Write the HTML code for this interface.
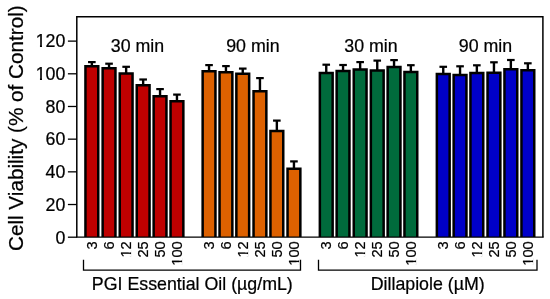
<!DOCTYPE html>
<html><head><meta charset="utf-8"><title>Cell Viability</title>
<style>
html,body{margin:0;padding:0;background:#fff;}
body{width:550px;height:299px;overflow:hidden;}
svg{display:block;}
text{font-family:"Liberation Sans",Arial,Helvetica,sans-serif;fill:#000;stroke:#000;stroke-width:0.22px;}
.xt{font-size:14.6px;stroke-width:0.2px;}
.yt{font-size:17.8px;}
.lab{font-size:17.8px;}
.ttl{font-size:20.7px;}
</style></head>
<body>
<svg width="550" height="299" viewBox="0 0 550 299">
<rect x="0" y="0" width="550" height="299" fill="#fff"/>
<line x1="91.85" y1="62.1" x2="91.85" y2="66" stroke="#000" stroke-width="2.4"/>
<line x1="88.05" y1="62.1" x2="95.65" y2="62.1" stroke="#000" stroke-width="2.2"/>
<rect x="85.45" y="66.25" width="12.8" height="170.75" fill="#BF0000"/>
<path d="M85.45 237V66.25H98.25V237" fill="none" stroke="#000" stroke-width="2.5" stroke-linejoin="miter"/>
<line x1="109.05" y1="63.7" x2="109.05" y2="68" stroke="#000" stroke-width="2.4"/>
<line x1="105.25" y1="63.7" x2="112.85" y2="63.7" stroke="#000" stroke-width="2.2"/>
<rect x="102.65" y="68.25" width="12.8" height="168.75" fill="#BF0000"/>
<path d="M102.65 237V68.25H115.45V237" fill="none" stroke="#000" stroke-width="2.5" stroke-linejoin="miter"/>
<line x1="126.15" y1="66.8" x2="126.15" y2="73.2" stroke="#000" stroke-width="2.4"/>
<line x1="122.35" y1="66.8" x2="129.95" y2="66.8" stroke="#000" stroke-width="2.2"/>
<rect x="119.75" y="73.45" width="12.8" height="163.55" fill="#BF0000"/>
<path d="M119.75 237V73.45H132.55V237" fill="none" stroke="#000" stroke-width="2.5" stroke-linejoin="miter"/>
<line x1="143.15" y1="79.5" x2="143.15" y2="85" stroke="#000" stroke-width="2.4"/>
<line x1="139.35" y1="79.5" x2="146.95" y2="79.5" stroke="#000" stroke-width="2.2"/>
<rect x="136.75" y="85.25" width="12.8" height="151.75" fill="#BF0000"/>
<path d="M136.75 237V85.25H149.55V237" fill="none" stroke="#000" stroke-width="2.5" stroke-linejoin="miter"/>
<line x1="160.05" y1="89.1" x2="160.05" y2="96.1" stroke="#000" stroke-width="2.4"/>
<line x1="156.25" y1="89.1" x2="163.85" y2="89.1" stroke="#000" stroke-width="2.2"/>
<rect x="153.65" y="96.35" width="12.8" height="140.65" fill="#BF0000"/>
<path d="M153.65 237V96.35H166.45V237" fill="none" stroke="#000" stroke-width="2.5" stroke-linejoin="miter"/>
<line x1="176.95" y1="94.6" x2="176.95" y2="100.9" stroke="#000" stroke-width="2.4"/>
<line x1="173.15" y1="94.6" x2="180.75" y2="94.6" stroke="#000" stroke-width="2.2"/>
<rect x="170.55" y="101.15" width="12.8" height="135.85" fill="#BF0000"/>
<path d="M170.55 237V101.15H183.35V237" fill="none" stroke="#000" stroke-width="2.5" stroke-linejoin="miter"/>
<line x1="209.05" y1="65.1" x2="209.05" y2="71" stroke="#000" stroke-width="2.4"/>
<line x1="205.25" y1="65.1" x2="212.85" y2="65.1" stroke="#000" stroke-width="2.2"/>
<rect x="202.65" y="71.25" width="12.8" height="165.75" fill="#DD6100"/>
<path d="M202.65 237V71.25H215.45V237" fill="none" stroke="#000" stroke-width="2.5" stroke-linejoin="miter"/>
<line x1="225.95" y1="66.1" x2="225.95" y2="72" stroke="#000" stroke-width="2.4"/>
<line x1="222.15" y1="66.1" x2="229.75" y2="66.1" stroke="#000" stroke-width="2.2"/>
<rect x="219.55" y="72.25" width="12.8" height="164.75" fill="#DD6100"/>
<path d="M219.55 237V72.25H232.35V237" fill="none" stroke="#000" stroke-width="2.5" stroke-linejoin="miter"/>
<line x1="242.75" y1="68.6" x2="242.75" y2="73.5" stroke="#000" stroke-width="2.4"/>
<line x1="238.95" y1="68.6" x2="246.55" y2="68.6" stroke="#000" stroke-width="2.2"/>
<rect x="236.35" y="73.75" width="12.8" height="163.25" fill="#DD6100"/>
<path d="M236.35 237V73.75H249.15V237" fill="none" stroke="#000" stroke-width="2.5" stroke-linejoin="miter"/>
<line x1="259.95" y1="78.1" x2="259.95" y2="91.1" stroke="#000" stroke-width="2.4"/>
<line x1="256.15" y1="78.1" x2="263.75" y2="78.1" stroke="#000" stroke-width="2.2"/>
<rect x="253.55" y="91.35" width="12.8" height="145.65" fill="#DD6100"/>
<path d="M253.55 237V91.35H266.35V237" fill="none" stroke="#000" stroke-width="2.5" stroke-linejoin="miter"/>
<line x1="276.85" y1="120.6" x2="276.85" y2="130.7" stroke="#000" stroke-width="2.4"/>
<line x1="273.05" y1="120.6" x2="280.65" y2="120.6" stroke="#000" stroke-width="2.2"/>
<rect x="270.45" y="130.95" width="12.8" height="106.05" fill="#DD6100"/>
<path d="M270.45 237V130.95H283.25V237" fill="none" stroke="#000" stroke-width="2.5" stroke-linejoin="miter"/>
<line x1="293.95" y1="161.4" x2="293.95" y2="168.4" stroke="#000" stroke-width="2.4"/>
<line x1="290.15" y1="161.4" x2="297.75" y2="161.4" stroke="#000" stroke-width="2.2"/>
<rect x="287.55" y="168.65" width="12.8" height="68.35" fill="#DD6100"/>
<path d="M287.55 237V168.65H300.35V237" fill="none" stroke="#000" stroke-width="2.5" stroke-linejoin="miter"/>
<line x1="326.25" y1="64.7" x2="326.25" y2="72.8" stroke="#000" stroke-width="2.4"/>
<line x1="322.45" y1="64.7" x2="330.05" y2="64.7" stroke="#000" stroke-width="2.2"/>
<rect x="319.85" y="73.05" width="12.8" height="163.95" fill="#006B3C"/>
<path d="M319.85 237V73.05H332.65V237" fill="none" stroke="#000" stroke-width="2.5" stroke-linejoin="miter"/>
<line x1="343.05" y1="65" x2="343.05" y2="70.8" stroke="#000" stroke-width="2.4"/>
<line x1="339.25" y1="65" x2="346.85" y2="65" stroke="#000" stroke-width="2.2"/>
<rect x="336.65" y="71.05" width="12.8" height="165.95" fill="#006B3C"/>
<path d="M336.65 237V71.05H349.45V237" fill="none" stroke="#000" stroke-width="2.5" stroke-linejoin="miter"/>
<line x1="360.15" y1="62.1" x2="360.15" y2="69.3" stroke="#000" stroke-width="2.4"/>
<line x1="356.35" y1="62.1" x2="363.95" y2="62.1" stroke="#000" stroke-width="2.2"/>
<rect x="353.75" y="69.55" width="12.8" height="167.45" fill="#006B3C"/>
<path d="M353.75 237V69.55H366.55V237" fill="none" stroke="#000" stroke-width="2.5" stroke-linejoin="miter"/>
<line x1="377.25" y1="60.6" x2="377.25" y2="70.3" stroke="#000" stroke-width="2.4"/>
<line x1="373.45" y1="60.6" x2="381.05" y2="60.6" stroke="#000" stroke-width="2.2"/>
<rect x="370.85" y="70.55" width="12.8" height="166.45" fill="#006B3C"/>
<path d="M370.85 237V70.55H383.65V237" fill="none" stroke="#000" stroke-width="2.5" stroke-linejoin="miter"/>
<line x1="394.05" y1="60.1" x2="394.05" y2="66.7" stroke="#000" stroke-width="2.4"/>
<line x1="390.25" y1="60.1" x2="397.85" y2="60.1" stroke="#000" stroke-width="2.2"/>
<rect x="387.65" y="66.95" width="12.8" height="170.05" fill="#006B3C"/>
<path d="M387.65 237V66.95H400.45V237" fill="none" stroke="#000" stroke-width="2.5" stroke-linejoin="miter"/>
<line x1="410.85" y1="65.2" x2="410.85" y2="71.8" stroke="#000" stroke-width="2.4"/>
<line x1="407.05" y1="65.2" x2="414.65" y2="65.2" stroke="#000" stroke-width="2.2"/>
<rect x="404.45" y="72.05" width="12.8" height="164.95" fill="#006B3C"/>
<path d="M404.45 237V72.05H417.25V237" fill="none" stroke="#000" stroke-width="2.5" stroke-linejoin="miter"/>
<line x1="443.25" y1="66.8" x2="443.25" y2="73.8" stroke="#000" stroke-width="2.4"/>
<line x1="439.45" y1="66.8" x2="447.05" y2="66.8" stroke="#000" stroke-width="2.2"/>
<rect x="436.85" y="74.05" width="12.8" height="162.95" fill="#0000C8"/>
<path d="M436.85 237V74.05H449.65V237" fill="none" stroke="#000" stroke-width="2.5" stroke-linejoin="miter"/>
<line x1="460.05" y1="66.3" x2="460.05" y2="74.8" stroke="#000" stroke-width="2.4"/>
<line x1="456.25" y1="66.3" x2="463.85" y2="66.3" stroke="#000" stroke-width="2.2"/>
<rect x="453.65" y="75.05" width="12.8" height="161.95" fill="#0000C8"/>
<path d="M453.65 237V75.05H466.45V237" fill="none" stroke="#000" stroke-width="2.5" stroke-linejoin="miter"/>
<line x1="476.85" y1="65.3" x2="476.85" y2="72.8" stroke="#000" stroke-width="2.4"/>
<line x1="473.05" y1="65.3" x2="480.65" y2="65.3" stroke="#000" stroke-width="2.2"/>
<rect x="470.45" y="73.05" width="12.8" height="163.95" fill="#0000C8"/>
<path d="M470.45 237V73.05H483.25V237" fill="none" stroke="#000" stroke-width="2.5" stroke-linejoin="miter"/>
<line x1="493.95" y1="62.3" x2="493.95" y2="72.6" stroke="#000" stroke-width="2.4"/>
<line x1="490.15" y1="62.3" x2="497.75" y2="62.3" stroke="#000" stroke-width="2.2"/>
<rect x="487.55" y="72.85" width="12.8" height="164.15" fill="#0000C8"/>
<path d="M487.55 237V72.85H500.35V237" fill="none" stroke="#000" stroke-width="2.5" stroke-linejoin="miter"/>
<line x1="510.85" y1="60" x2="510.85" y2="69.1" stroke="#000" stroke-width="2.4"/>
<line x1="507.05" y1="60" x2="514.65" y2="60" stroke="#000" stroke-width="2.2"/>
<rect x="504.45" y="69.35" width="12.8" height="167.65" fill="#0000C8"/>
<path d="M504.45 237V69.35H517.25V237" fill="none" stroke="#000" stroke-width="2.5" stroke-linejoin="miter"/>
<line x1="527.85" y1="63.3" x2="527.85" y2="70.1" stroke="#000" stroke-width="2.4"/>
<line x1="524.05" y1="63.3" x2="531.65" y2="63.3" stroke="#000" stroke-width="2.2"/>
<rect x="521.45" y="70.35" width="12.8" height="166.65" fill="#0000C8"/>
<path d="M521.45 237V70.35H534.25V237" fill="none" stroke="#000" stroke-width="2.5" stroke-linejoin="miter"/>
<g transform="translate(96.75,249.42) rotate(-90)"><text class="xt" x="0" y="0">3</text></g>
<g transform="translate(113.95,249.42) rotate(-90)"><text class="xt" x="0" y="0">6</text></g>
<g transform="translate(131.05,257.54) rotate(-90)"><text class="xt" x="0" y="0">12</text><rect x="0.71" y="-2.35" width="2.78" height="2.99" fill="#fff"/><rect x="5.14" y="-2.35" width="2.63" height="2.99" fill="#fff"/></g>
<g transform="translate(148.05,257.54) rotate(-90)"><text class="xt" x="0" y="0">25</text></g>
<g transform="translate(164.95,257.54) rotate(-90)"><text class="xt" x="0" y="0">50</text></g>
<g transform="translate(181.85,265.66) rotate(-90)"><text class="xt" x="0" y="0">100</text><rect x="0.71" y="-2.35" width="2.78" height="2.99" fill="#fff"/><rect x="5.14" y="-2.35" width="2.63" height="2.99" fill="#fff"/></g>
<g transform="translate(213.95,249.42) rotate(-90)"><text class="xt" x="0" y="0">3</text></g>
<g transform="translate(230.85,249.42) rotate(-90)"><text class="xt" x="0" y="0">6</text></g>
<g transform="translate(247.65,257.54) rotate(-90)"><text class="xt" x="0" y="0">12</text><rect x="0.71" y="-2.35" width="2.78" height="2.99" fill="#fff"/><rect x="5.14" y="-2.35" width="2.63" height="2.99" fill="#fff"/></g>
<g transform="translate(264.85,257.54) rotate(-90)"><text class="xt" x="0" y="0">25</text></g>
<g transform="translate(281.75,257.54) rotate(-90)"><text class="xt" x="0" y="0">50</text></g>
<g transform="translate(298.85,265.66) rotate(-90)"><text class="xt" x="0" y="0">100</text><rect x="0.71" y="-2.35" width="2.78" height="2.99" fill="#fff"/><rect x="5.14" y="-2.35" width="2.63" height="2.99" fill="#fff"/></g>
<g transform="translate(331.15,249.42) rotate(-90)"><text class="xt" x="0" y="0">3</text></g>
<g transform="translate(347.95,249.42) rotate(-90)"><text class="xt" x="0" y="0">6</text></g>
<g transform="translate(365.05,257.54) rotate(-90)"><text class="xt" x="0" y="0">12</text><rect x="0.71" y="-2.35" width="2.78" height="2.99" fill="#fff"/><rect x="5.14" y="-2.35" width="2.63" height="2.99" fill="#fff"/></g>
<g transform="translate(382.15,257.54) rotate(-90)"><text class="xt" x="0" y="0">25</text></g>
<g transform="translate(398.95,257.54) rotate(-90)"><text class="xt" x="0" y="0">50</text></g>
<g transform="translate(415.75,265.66) rotate(-90)"><text class="xt" x="0" y="0">100</text><rect x="0.71" y="-2.35" width="2.78" height="2.99" fill="#fff"/><rect x="5.14" y="-2.35" width="2.63" height="2.99" fill="#fff"/></g>
<g transform="translate(448.15,249.42) rotate(-90)"><text class="xt" x="0" y="0">3</text></g>
<g transform="translate(464.95,249.42) rotate(-90)"><text class="xt" x="0" y="0">6</text></g>
<g transform="translate(481.75,257.54) rotate(-90)"><text class="xt" x="0" y="0">12</text><rect x="0.71" y="-2.35" width="2.78" height="2.99" fill="#fff"/><rect x="5.14" y="-2.35" width="2.63" height="2.99" fill="#fff"/></g>
<g transform="translate(498.85,257.54) rotate(-90)"><text class="xt" x="0" y="0">25</text></g>
<g transform="translate(515.75,257.54) rotate(-90)"><text class="xt" x="0" y="0">50</text></g>
<g transform="translate(532.75,265.66) rotate(-90)"><text class="xt" x="0" y="0">100</text><rect x="0.71" y="-2.35" width="2.78" height="2.99" fill="#fff"/><rect x="5.14" y="-2.35" width="2.63" height="2.99" fill="#fff"/></g>
<!-- frame -->
<path d="M76.8 237.2V16.7H542.9V237.2" fill="none" stroke="#000" stroke-width="1.5" stroke-linejoin="miter"/>
<line x1="76.05" y1="237.2" x2="543.65" y2="237.2" stroke="#000" stroke-width="1.2"/>
<line x1="67.9" y1="237.2" x2="76.8" y2="237.2" stroke="#000" stroke-width="1.3"/>
<g transform="translate(55.5,243.5)"><text class="yt" x="0" y="0">0</text></g>
<line x1="67.9" y1="204.52" x2="76.8" y2="204.52" stroke="#000" stroke-width="1.3"/>
<g transform="translate(45.6,210.82)"><text class="yt" x="0" y="0">20</text></g>
<line x1="67.9" y1="171.84" x2="76.8" y2="171.84" stroke="#000" stroke-width="1.3"/>
<g transform="translate(45.6,178.14)"><text class="yt" x="0" y="0">40</text></g>
<line x1="67.9" y1="139.16" x2="76.8" y2="139.16" stroke="#000" stroke-width="1.3"/>
<g transform="translate(45.6,145.46)"><text class="yt" x="0" y="0">60</text></g>
<line x1="67.9" y1="106.48" x2="76.8" y2="106.48" stroke="#000" stroke-width="1.3"/>
<g transform="translate(45.6,112.78)"><text class="yt" x="0" y="0">80</text></g>
<line x1="67.9" y1="73.8" x2="76.8" y2="73.8" stroke="#000" stroke-width="1.3"/>
<g transform="translate(35.7,80.1)"><text class="yt" x="0" y="0">100</text><rect x="0.87" y="-2.87" width="3.39" height="3.65" fill="#fff"/><rect x="6.27" y="-2.87" width="3.21" height="3.65" fill="#fff"/></g>
<line x1="67.9" y1="41.12" x2="76.8" y2="41.12" stroke="#000" stroke-width="1.3"/>
<g transform="translate(35.7,47.42)"><text class="yt" x="0" y="0">120</text><rect x="0.87" y="-2.87" width="3.39" height="3.65" fill="#fff"/><rect x="6.27" y="-2.87" width="3.21" height="3.65" fill="#fff"/></g>
<text class="lab" x="110.8" y="52.3">30 min</text>
<text class="lab" x="226.2" y="52.3">90 min</text>
<text class="lab" x="344.3" y="52.3">30 min</text>
<text class="lab" x="458.8" y="52.3">90 min</text>
<text class="ttl" transform="translate(23.4,128.2) rotate(-90)" text-anchor="middle">Cell Viability (% of Control)</text>
<path d="M83.5 259.8 V270.2 H300.5 V259.8" fill="none" stroke="#000" stroke-width="1.3"/>
<path d="M318.5 259.8 V270.2 H537 V259.8" fill="none" stroke="#000" stroke-width="1.3"/>
<text class="lab" x="192.3" y="290.1" text-anchor="middle">PGI Essential Oil (µg/mL)</text>
<text class="lab" x="427.7" y="290.1" text-anchor="middle">Dillapiole (µM)</text>
</svg>
</body></html>
